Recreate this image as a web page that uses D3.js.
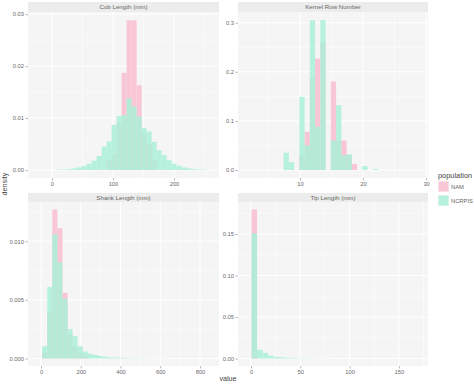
<!DOCTYPE html>
<html>
<head>
<meta charset="utf-8">
<script src="https://d3js.org/d3.v7.min.js"></script>
<style>
  body { margin: 0; background: #fff; }
  svg text { font-family: 'Liberation Sans', Arial, sans-serif; }
</style>
</head>
<body>
<div id="chart"></div>
<script>
// histogram densities (bins of equal width)
var populations = ["NAM", "NCRPIS"];

var cobBinStart = 7.6, cobBinWidth = 8.2;
var cobNAM = [0,0,0,0,0,0,0,0,0,0, 0.002,0.003,0.009,0.0187,0.0288,0.0288,0.0163,0.007,0.005,0.002];
var cobNCRPIS = [0.0001,0.0001,0.0002,0.0003,0.0005,0.0008,0.0012,0.0018,0.0027,0.0045,
  0.0055,0.0087,0.0104,0.0106,0.0138,0.0122,0.0103,0.0081,0.0074,0.0054,
  0.0038,0.0029,0.0019,0.0012,0.0008,0.0005,0.0003,0.0002,0.0001,0.0001];

var kernelBinStart = 7.39, kernelBinWidth = 0.833;
var kernelNAM = [0,0,0,0.03,0.078,0.187,0.227,0.259,0,0.18,0.06,0.06,0.03,0.012,0,0,0,0];
var kernelNCRPIS = [0.035,0.016,0,0.149,0.05,0.305,0.088,0.305,0,0.06,0.132,0.03,0.032,0,0,0.008,0,0.002];

var shankBinStart = 6, shankBinWidth = 25.5;
var shankNAM = [0.0005,0.004,0.0127,0.0111,0.0056,0.002,0.001,0.0005,0.0002];
var shankNCRPIS = [0.00104,0.0061,0.0106,0.0082,0.0051,0.0025,0.0019,0.00104,0.0006,0.0004,
  0.0003,0.0002,0.00015,0.0001,0.00008,0.00006,0.00005,0.00004,0.00003,0.00002,
  0.00002,0.00001,0.00001,0.00001,0.00001];

var tipBinStart = 0.5, tipBinWidth = 5.6;
var tipNAM = [0.1795];
var tipNCRPIS = [0.1507,0.0105,0.0068,0.0036,0.002,0.0015,0.001,0.0007,0.0005,0.0004,
  0.0003,0.0002,0.0002,0.0001,0.0001];

// axis limits and ticks
var cobXLim = [-39.3, 273.8], cobYLim = [-0.00154, 0.0304];
var cobXTicks = [0, 100, 200], cobYTicks = [0, 0.01, 0.02, 0.03];
var kernelXLim = [0.16, 30.3], kernelYLim = [-0.0163, 0.3218];
var kernelXTicks = [10, 20, 30], kernelYTicks = [0, 0.1, 0.2, 0.3];
var shankXLim = [-65.4, 895.6], shankYLim = [-0.00064, 0.01334];
var shankXTicks = [0, 200, 400, 600, 800], shankYTicks = [0, 0.005, 0.010];
var tipXLim = [-13.2, 179.5], tipYLim = [-0.009, 0.1885];
var tipXTicks = [0, 50, 100, 150], tipYTicks = [0, 0.05, 0.10, 0.15];

var W = 474, H = 384;
var fills = { NAM: "#f9c6d5", NCRPIS: "#a9f0d7" };
var opac = { NAM: 1, NCRPIS: 0.85 };

var svg = d3.select("#chart").append("svg")
    .attr("width", W).attr("height", H);

svg.append("rect").attr("width", W).attr("height", H).attr("fill", "#fff");

var panels = [
  { title: "Cob Length (mm)", start: cobBinStart, bw: cobBinWidth, nam: cobNAM, ncr: cobNCRPIS,
    xlim: cobXLim, ylim: cobYLim, xt: cobXTicks, yt: cobYTicks, yfmt: d3.format(".2f"),
    left: 28, right: 219, stripTop: 2, top: 12, bottom: 178 },
  { title: "Kernel Row Number", start: kernelBinStart, bw: kernelBinWidth, nam: kernelNAM, ncr: kernelNCRPIS,
    xlim: kernelXLim, ylim: kernelYLim, xt: kernelXTicks, yt: kernelYTicks, yfmt: d3.format(".1f"),
    left: 238, right: 428, stripTop: 2, top: 12, bottom: 178 },
  { title: "Shank Length (mm)", start: shankBinStart, bw: shankBinWidth, nam: shankNAM, ncr: shankNCRPIS,
    xlim: shankXLim, ylim: shankYLim, xt: shankXTicks, yt: shankYTicks, yfmt: d3.format(".3f"),
    left: 28, right: 219, stripTop: 193, top: 202, bottom: 366 },
  { title: "Tip Length (mm)", start: tipBinStart, bw: tipBinWidth, nam: tipNAM, ncr: tipNCRPIS,
    xlim: tipXLim, ylim: tipYLim, xt: tipXTicks, yt: tipYTicks, yfmt: d3.format(".2f"),
    left: 238, right: 428, stripTop: 193, top: 202, bottom: 366 }
];

panels.forEach(function(p) {
  var x = d3.scaleLinear().domain(p.xlim).range([p.left, p.right]);
  var y = d3.scaleLinear().domain(p.ylim).range([p.bottom, p.top]);
  var g = svg.append("g");

  // strip
  g.append("rect").attr("x", p.left).attr("y", p.stripTop)
    .attr("width", p.right - p.left).attr("height", p.top - p.stripTop)
    .attr("fill", "#ececec");
  g.append("text").attr("x", (p.left + p.right) / 2).attr("y", (p.stripTop + p.top) / 2 + 2.2)
    .attr("text-anchor", "middle").attr("font-size", 6.2).attr("fill", "#666")
    .text(p.title);

  // panel background + grid
  g.append("rect").attr("x", p.left).attr("y", p.top)
    .attr("width", p.right - p.left).attr("height", p.bottom - p.top)
    .attr("fill", "#f5f5f5");

  var xstep = p.xt[1] - p.xt[0], ystep = p.yt[1] - p.yt[0];
  var xminor = d3.range(p.xt[0] - xstep * 1.5, p.xlim[1], xstep)
    .filter(function(v) { return v > p.xlim[0] && v < p.xlim[1]; });
  var yminor = d3.range(p.yt[0] - ystep * 1.5, p.ylim[1], ystep)
    .filter(function(v) { return v > p.ylim[0] && v < p.ylim[1]; });

  g.selectAll(".xmin").data(xminor).enter().append("line")
    .attr("x1", x).attr("x2", x).attr("y1", p.top).attr("y2", p.bottom)
    .attr("stroke", "#fff").attr("stroke-width", 0.5);
  g.selectAll(".ymin").data(yminor).enter().append("line")
    .attr("y1", y).attr("y2", y).attr("x1", p.left).attr("x2", p.right)
    .attr("stroke", "#fff").attr("stroke-width", 0.5);
  g.selectAll(".xmaj").data(p.xt).enter().append("line")
    .attr("x1", x).attr("x2", x).attr("y1", p.top).attr("y2", p.bottom)
    .attr("stroke", "#fff").attr("stroke-width", 1);
  g.selectAll(".ymaj").data(p.yt).enter().append("line")
    .attr("y1", y).attr("y2", y).attr("x1", p.left).attr("x2", p.right)
    .attr("stroke", "#fff").attr("stroke-width", 1);

  // bars: NAM first, NCRPIS over it
  [["NAM", p.nam], ["NCRPIS", p.ncr]].forEach(function(s) {
    g.append("g").selectAll("rect")
      .data(s[1].map(function(d, i) { return { i: i, d: d }; }).filter(function(o) { return o.d > 0; }))
      .enter().append("rect")
      .attr("x", function(o) { return x(p.start + o.i * p.bw); })
      .attr("width", function(o) { return x(p.start + (o.i + 1) * p.bw) - x(p.start + o.i * p.bw); })
      .attr("y", function(o) { return y(o.d); })
      .attr("height", function(o) { return y(0) - y(o.d); })
      .attr("fill", fills[s[0]]).attr("fill-opacity", opac[s[0]]);
  });

  // axes
  var xa = g.append("g").attr("transform", "translate(0," + p.bottom + ")")
    .call(d3.axisBottom(x).tickValues(p.xt).tickSize(2.5).tickPadding(1.5).tickFormat(d3.format("d")));
  var ya = g.append("g").attr("transform", "translate(" + p.left + ",0)")
    .call(d3.axisLeft(y).tickValues(p.yt).tickSize(2.5).tickPadding(1.5).tickFormat(p.yfmt));
  [xa, ya].forEach(function(a) {
    a.select(".domain").remove();
    a.selectAll("line").attr("stroke", "#777").attr("stroke-width", 0.5);
    a.selectAll("text").attr("font-size", 5.8).attr("fill", "#6a6a6a");
  });
});

// axis titles
svg.append("text").attr("x", 228).attr("y", 381).attr("text-anchor", "middle")
  .attr("font-size", 7.2).attr("fill", "#444").text("value");
svg.append("text").attr("transform", "translate(7,184) rotate(-90)").attr("text-anchor", "middle")
  .attr("font-size", 7.2).attr("fill", "#444").text("density");

// legend
var leg = svg.append("g").attr("transform", "translate(438,0)");
leg.append("text").attr("x", 0).attr("y", 178).attr("font-size", 7.4).attr("fill", "#444").text("population");
populations.forEach(function(k, i) {
  leg.append("rect").attr("x", 0).attr("y", 181 + i * 14).attr("width", 11).attr("height", 11)
    .attr("fill", "#f5f5f5");
  leg.append("rect").attr("x", 0.5).attr("y", 181.5 + i * 14).attr("width", 10).attr("height", 10)
    .attr("fill", fills[k]).attr("fill-opacity", opac[k]);
  leg.append("text").attr("x", 13).attr("y", 188.5 + i * 14).attr("font-size", 5.8).attr("fill", "#666").text(k);
});
</script>
</body>
</html>
